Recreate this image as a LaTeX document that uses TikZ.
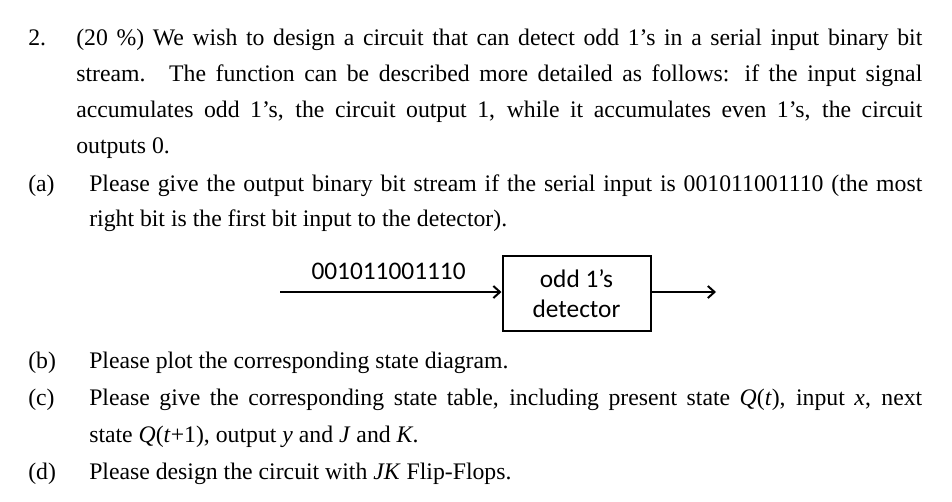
\documentclass[tikz,border=0pt]{standalone}
\usepackage{fontspec}
\setmainfont{Liberation Serif}
\newfontfamily\carlitofont{Carlito}
\usetikzlibrary{arrows.meta}
\tikzset{
  txt/.style={anchor=base west,inner sep=0pt,font=\fontsize{17.8}{20}\selectfont},
  sans/.style={font=\carlitofont\fontsize{19}{23}\selectfont},
  wire/.style={line width=1.5pt,-{Straight Barb[length=5pt,width=9pt,line width=1.5pt]}}
}
\newcommand{\jline}[1]{\makebox[634.5pt][s]{#1}}
\begin{document}
\begin{tikzpicture}[x=0.75pt,y=-0.75pt]
\useasboundingbox (0,0) rectangle (952,501);
\node[txt] (n2) at (28,45) {2.};
\node[txt] (l1) at (76,45) {\jline{(20 \%) We wish to design a circuit that can detect odd 1’s in a serial input binary bit}};
\node[txt] (l2) at (76,81) {\jline{stream.\quad The function can be described more detailed as follows: if the input signal}};
\node[txt] (l3) at (76,117) {\jline{accumulates odd 1’s, the circuit output 1, while it accumulates even 1’s, the circuit}};
\node[txt] (l4) at (76,153) {outputs 0.};
\node[txt] (pa) at (28,191) {(a)};
\node[txt] (a1) at (89,191) {\makebox[624.75pt][s]{Please give the output binary bit stream if the serial input is 001011001110 (the most}};
\node[txt] (a2) at (89,226) {right bit is the first bit input to the detector).};
\node[draw,line width=1.5pt,minimum width=111pt,minimum height=56pt,sans,align=center,inner sep=0pt] (det) at (576.5,293.5) {odd 1’s\\[-1pt]detector};
\coordinate (in) at (280,292);
\coordinate (out) at (716,292);
\draw[wire] (in) -- (in -| det.west) node[pos=0.49,above=5pt,sans] (bits) {001011001110};
\draw[wire] (det.east |- out) -- (out);
\node[txt] (pb) at (28,368) {(b)};
\node[txt] (b1) at (89,368) {Please plot the corresponding state diagram.};
\node[txt] (pc) at (28,405) {(c)};
\node[txt] (c1) at (89,405) {\makebox[624.75pt][s]{Please give the corresponding state table, including present state \textit{Q}(\textit{t}), input \textit{x}, next}};
\node[txt] (c2) at (89,442) {state \textit{Q}(\textit{t}+1), output \textit{y} and \textit{J} and \textit{K}.};
\node[txt] (pd) at (28,479) {(d)};
\node[txt] (d1) at (89,479) {Please design the circuit with \textit{JK} Flip-Flops.};
\end{tikzpicture}
\end{document}
